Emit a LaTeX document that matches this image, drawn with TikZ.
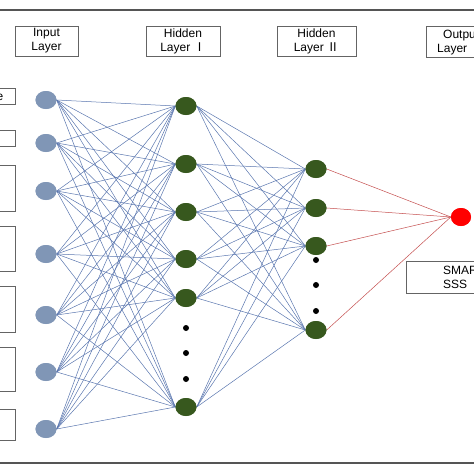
\documentclass[tikz,border=0pt]{standalone}
\usepackage{fontspec}
\setmainfont{Liberation Sans}
\newfontfamily\cjk{Noto Sans CJK SC}
\usetikzlibrary{shapes.geometric}
\definecolor{inblue}{RGB}{128,150,182}
\definecolor{hidgreen}{RGB}{55,88,30}
\definecolor{wireblue}{RGB}{90,118,175}
\definecolor{wirered}{RGB}{196,78,78}
\definecolor{framegray}{RGB}{85,85,85}
\definecolor{boxgray}{RGB}{100,100,100}
\begin{document}
\begin{tikzpicture}[x=1pt,y=-1pt,
  inneuron/.style={ellipse,fill=inblue,minimum width=21pt,minimum height=18pt,inner sep=0pt},
  hidneuron/.style={ellipse,fill=hidgreen,minimum width=21pt,minimum height=18pt,inner sep=0pt},
  outneuron/.style={ellipse,fill=red,minimum width=20pt,minimum height=18pt,inner sep=0pt},
  vdot/.style={circle,fill=black,minimum size=6pt,inner sep=0pt},
  layerbox/.style={draw=boxgray,line width=0.8pt,minimum height=30pt,inner sep=0pt,align=center,font=\fontsize{12}{14}\selectfont},
  sidebox/.style={draw=boxgray,line width=0.8pt},
  bwire/.style={draw=wireblue,line width=0.5pt},
  rwire/.style={draw=wirered,line width=0.5pt},
  frameline/.style={draw=framegray,line width=1.5pt},
  lbl/.style={font=\fontsize{12}{14}\selectfont,inner sep=0pt,anchor=base west}
]
\useasboundingbox (0,0) rectangle (474,474);
\clip (0,0) rectangle (474,474);
% frame lines
\coordinate (tl) at (0,10); \coordinate (tr) at (474,10);
\coordinate (bl) at (0,463); \coordinate (br) at (474,463);
\draw[frameline] (tl) -- (tr);
\draw[frameline] (bl) -- (br);
% layer boxes
\node[layerbox,minimum width=63pt] (binput) at (46.5,41) {Input\\Layer};
\node[layerbox,minimum width=74pt] (bhid1) at (183,41) {Hidden\\Layer {\cjk Ⅰ}};
\node[layerbox,minimum width=79pt] (bhid2) at (316.5,41) {Hidden\\Layer {\cjk Ⅱ}};
\draw[sidebox] (426,26) rectangle (490,57);
\node[lbl] (toutput) at (443,38) {Output};
\node[lbl] (tlayer) at (437,52) {Layer};
% side input boxes
\draw[sidebox] (-5,88) rectangle (15,104);
\node[font=\fontsize{12}{14}\selectfont,inner sep=0pt,anchor=base east] (te) at (3.5,100) {e};
\draw[sidebox] (-5,130) rectangle (15,146);
\draw[sidebox] (-5,165) rectangle (15,211);
\draw[sidebox] (-5,226) rectangle (15,271);
\draw[sidebox] (-5,286) rectangle (15,332);
\draw[sidebox] (-5,347) rectangle (15,391);
\draw[sidebox] (-5,409) rectangle (15,440);
% SMAR box
\draw[sidebox] (406,261) rectangle (490,293);
\node[lbl] (tsmar) at (443,274) {SMAR};
\node[lbl] (tsss) at (443,288) {SSS};
% neurons
\foreach \y [count=\i] in {100,143,191,254,315,372,429}
  \node[inneuron] (i\i) at (46,\y) {};
\foreach \y [count=\i] in {106,164,212,259,298,407}
  \node[hidneuron] (h\i) at (186,\y) {};
\foreach \y [count=\i] in {169,208,246,330}
  \node[hidneuron] (k\i) at (316,\y) {};
\node[outneuron] (o) at (461,217) {};
% dots
\foreach \y [count=\i] in {328,353,379}
  \node[vdot] (da\i) at (186,\y) {};
\foreach \y [count=\i] in {260,285,311}
  \node[vdot] (db\i) at (316,\y) {};
% wires
\foreach \a in {1,...,7}
  \foreach \b in {1,...,6}
    \draw[bwire] (i\a.east) -- (h\b.west);
\foreach \a in {1,...,6}
  \foreach \b in {1,...,4}
    \draw[bwire] (h\a.east) -- (k\b.west);
\foreach \a in {1,...,4}
  \draw[rwire] (k\a.east) -- (o.west);
% redraw neurons on top of wires
\foreach \y in {100,143,191,254,315,372,429}
  \fill[inblue] (46,\y) ellipse (10.5pt and 9pt);
\foreach \y in {106,164,212,259,298,407}
  \fill[hidgreen] (186,\y) ellipse (10.5pt and 9pt);
\foreach \y in {169,208,246,330}
  \fill[hidgreen] (316,\y) ellipse (10.5pt and 9pt);
\fill[red] (461,217) ellipse (10pt and 9pt);
\end{tikzpicture}
\end{document}
